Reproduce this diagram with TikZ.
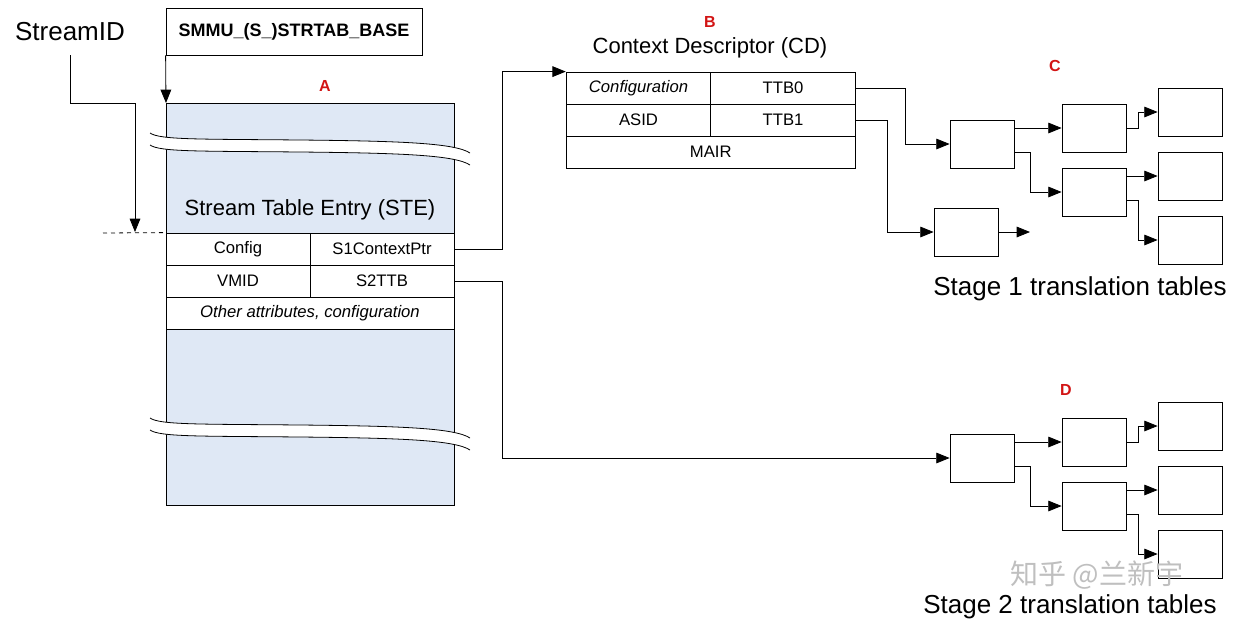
\documentclass[tikz,border=0pt]{standalone}
\usepackage{fontspec}
\setmainfont{Liberation Sans}
\newfontfamily\cjk{Noto Sans CJK SC}
\usetikzlibrary{arrows.meta}
\definecolor{tblue}{RGB}{223,232,245}
\definecolor{lred}{RGB}{210,20,20}
\begin{document}
\begin{tikzpicture}[x=0.75pt,y=-0.75pt,
  box/.style={draw,fill=white,inner sep=0pt,minimum width=48pt,minimum height=36pt},
  cell/.style={draw,fill=white,inner sep=0pt,minimum height=24pt,font=\fontsize{12.5}{14}\selectfont},
  arr/.style={-{Triangle[length=10pt,width=8pt]}},
  lbl/.style={text=lred,font=\bfseries\fontsize{12}{14}\selectfont},
  line width=0.6pt]
\useasboundingbox (0,0) rectangle (1243,626);
% left part
\node (sid) at (70,32) {\fontsize{19.5}{22}\selectfont StreamID};
\node[draw,inner sep=0pt,minimum width=192pt,minimum height=35.25pt,font=\bfseries\fontsize{13.5}{15}\selectfont] (base) at (294,31.5) {SMMU\_(S\_)STRTAB\_BASE};
\node[lbl] (la) at (325,86) {A};
\node[draw,fill=tblue,inner sep=0pt,minimum width=216pt,minimum height=301.5pt] (tab) at (310,304) {};
\coordinate (tabtop) at (166,103);
\draw[arr] (base.south west) -- (tabtop);
% breaks
\foreach \y in {133,418}{
  \fill[white] (150,\y) .. controls (160,\y+7) and (200,\y+6) .. (300,\y+7) .. controls (400,\y+8) and (455,\y+10) .. (470,\y+20)
     -- (470,\y+32) .. controls (455,\y+22) and (400,\y+20) .. (300,\y+19) .. controls (200,\y+18) and (160,\y+19) .. (150,\y+12) -- cycle;
  \draw (150,\y) .. controls (160,\y+7) and (200,\y+6) .. (300,\y+7) .. controls (400,\y+8) and (455,\y+10) .. (470,\y+20);
  \draw (150,\y+12) .. controls (160,\y+19) and (200,\y+18) .. (300,\y+19) .. controls (400,\y+20) and (455,\y+22) .. (470,\y+32);
}
\node (ste) at (310,210) {\fontsize{16.5}{19}\selectfont Stream Table Entry (STE)};
\node[cell,minimum width=108pt] (cfg) at (238,249) {Config};
\node[cell,minimum width=108pt] (s1p) at (382,249) {S1ContextPtr};
\node[cell,minimum width=108pt] (vmid) at (238,281) {VMID};
\node[cell,minimum width=108pt] (s2) at (382,281) {S2TTB};
\node[cell,minimum width=216pt] (oth) at (310,313) {\itshape Other attributes, configuration};
\coordinate (dl) at (103,233);
\draw[dashed] (dl) -- (cfg.north west);
\coordinate (sidh) at (135,232);
\draw[arr] (sid.south |- 0,55) |- (135,103) -- (sidh);
% CD
\node[lbl] (lb) at (710,22) {B};
\node (cdt) at (710,48) {\fontsize{16.5}{19}\selectfont Context Descriptor (CD)};
\node[cell,minimum width=108.5pt] (conf) at (638.5,88) {\itshape Configuration};
\node[cell,minimum width=108.5pt] (ttb0) at (783,88) {TTB0};
\node[cell,minimum width=108.5pt] (asid) at (638.5,120) {ASID};
\node[cell,minimum width=108.5pt] (ttb1) at (783,120) {TTB1};
\node[cell,minimum width=217pt] (mair) at (710.75,152) {MAIR};
\draw[arr] (s1p.east) -- (502,249) |- (conf.north west);
% Stage 1
\node[lbl] (lc) at (1055,66) {C};
\node[box] (a1) at (982,144) {};
\node[box] (a2) at (1094,128) {};
\node[box] (a3) at (1094,192) {};
\node[box] (a4) at (1190,112) {};
\node[box] (a5) at (1190,176) {};
\node[box] (a6) at (1190,240) {};
\node[box] (ax) at (966,232) {};
\coordinate (axo) at (1030,232);
\draw[arr] (ttb0.east) -- (905,88) |- (a1.west);
\draw[arr] (ttb1.east) -- (887,120) |- (ax.west);
\draw[arr] (ax.east) -- (axo);
\draw[arr] ([yshift=12pt]a1.east) -- (a2.west);
\draw[arr] ([yshift=-6pt]a1.east) -- (1030,152) |- (a3.west);
\draw[arr] (a2.east) -- (1138,128) |- (a4.west);
\draw[arr] ([yshift=12pt]a3.east) -- ([yshift=12pt]a3.east -| a5.west);
\draw[arr] ([yshift=-6pt]a3.east) -- (1138,200) |- (a6.west);
\node (s1t) at (1080,289) {\fontsize{19.5}{22}\selectfont Stage 1 translation tables};
% Stage 2
\node[lbl] (ld) at (1066,390) {D};
\node[box] (b1) at (982,458) {};
\node[box] (b2) at (1094,442) {};
\node[box] (b3) at (1094,506) {};
\node[box] (b4) at (1190,426) {};
\node[box] (b5) at (1190,490) {};
\node[box] (b6) at (1190,554) {};
\draw[arr] (s2.east) -- (502,281) |- (b1.west);
\draw[arr] ([yshift=12pt]b1.east) -- (b2.west);
\draw[arr] ([yshift=-6pt]b1.east) -- (1030,466) |- (b3.west);
\draw[arr] (b2.east) -- (1138,442) |- (b4.west);
\draw[arr] ([yshift=12pt]b3.east) -- ([yshift=12pt]b3.east -| b5.west);
\draw[arr] ([yshift=-6pt]b3.east) -- (1138,514) |- (b6.west);
\node (s2t) at (1070,607) {\fontsize{19.5}{22}\selectfont Stage 2 translation tables};
\node[text=black!25,font=\cjk\fontsize{21}{24}\selectfont] (wm) at (1097,575) {知乎 @兰新宇};
\end{tikzpicture}
\end{document}
